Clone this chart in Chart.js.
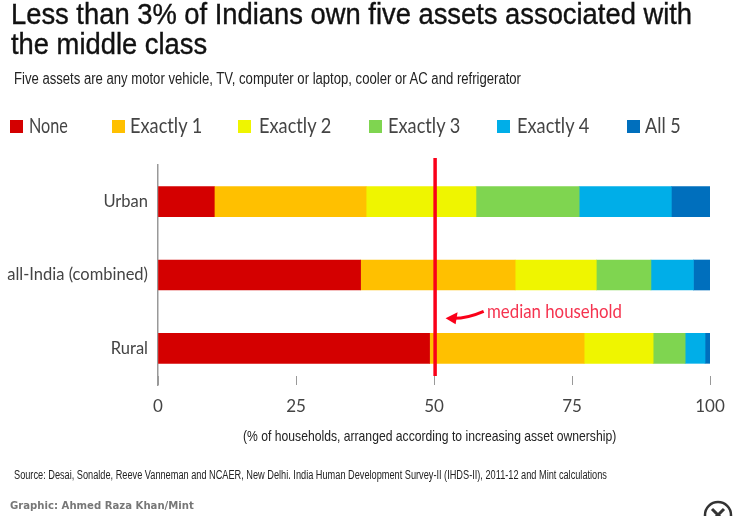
<!DOCTYPE html>
<html>
<head>
<meta charset="utf-8">
<script src="https://cdn.jsdelivr.net/npm/chart.js@4"></script>
<style>
  html, body { margin: 0; padding: 0; background: #fff; }
  #wrap { position: relative; width: 733px; height: 516px; overflow: hidden; font-family: "Liberation Sans", sans-serif; }
  canvas { position: absolute; left: 0; top: 0; }
  .t { position: absolute; white-space: nowrap; transform-origin: left top; }
  .box { position: absolute; width: 13px; height: 13px; top: 120px; }
  #close { position: absolute; left: 700px; top: 494px; }
</style>
</head>
<body>
<div id="wrap">
  <canvas id="chart" width="733" height="516"></canvas>
  <div class="t" data-w="681" style="left:11px;top:-3px;font-size:30px;color:#111;-webkit-text-stroke:.4px #111">Less than 3% of Indians own five assets associated with</div>
  <div class="t" data-w="196" style="left:11px;top:27px;font-size:30px;color:#111;-webkit-text-stroke:.4px #111">the middle class</div>
  <div class="t" data-w="507" style="left:14px;top:70px;font-size:16px;color:#222">Five assets are any motor vehicle, TV, computer or laptop, cooler or AC and refrigerator</div>
  <div class="t" data-w="373" style="left:243px;top:427px;font-size:15px;color:#222">(% of households, arranged according to increasing asset ownership)</div>
  <div class="t" data-w="593" style="left:14px;top:468px;font-size:12px;color:#222">Source: Desai, Sonalde, Reeve Vanneman and NCAER, New Delhi. India Human Development Survey-II (IHDS-II), 2011-12 and Mint calculations</div>
  <div class="t" data-w="184" style="left:10px;top:500px;font-family:'DejaVu Sans';font-weight:bold;font-size:10px;color:#777">Graphic: Ahmed Raza Khan/Mint</div>
  <svg id="close" width="33" height="22"><circle cx="18" cy="21" r="13" fill="none" stroke="#333" stroke-width="2.5"/><path d="M12 15 L24 27 M24 15 L12 27" stroke="#333" stroke-width="3"/></svg>
</div>
<script>
const categories = ['Urban', 'all-India (combined)', 'Rural'];
const seriesNames = ['None', 'Exactly 1', 'Exactly 2', 'Exactly 3', 'Exactly 4', 'All 5'];
const none = [10.2, 36.7, 49.2];
const exactly1 = [27.5, 28.0, 28.0];
const exactly2 = [19.9, 14.7, 12.5];
const exactly3 = [18.7, 9.9, 5.8];
const exactly4 = [16.7, 7.7, 3.6];
const all5 = [7.0, 3.0, 0.9];
const xTicks = [0, 25, 50, 75, 100];
const medianValue = 50.2;

const colors = ['#d40000', '#ffc000', '#eff500', '#7fd550', '#00aee8', '#006fbd'];
const legendLeft = [10, 112, 238, 369, 497, 627];
const legendTextLeft = [29, 130, 259, 388, 517, 645];
const legendWidth = [39, 72, 72, 72, 72, 36];

const wrap = document.getElementById('wrap');
seriesNames.forEach((name, i) => {
  const box = document.createElement('div');
  box.className = 'box';
  box.style.left = legendLeft[i] + 'px';
  box.style.background = colors[i];
  wrap.appendChild(box);
  const label = document.createElement('div');
  label.className = 't';
  label.textContent = name;
  label.dataset.w = legendWidth[i];
  label.style.cssText = 'left:' + legendTextLeft[i] + 'px;top:111px;font-family:Lato;font-size:22px;color:#444';
  wrap.appendChild(label);
});

// squeeze the html texts to the narrow widths of the original face
document.querySelectorAll('.t').forEach(el => {
  el.style.transform = 'scaleX(' + (el.dataset.w / el.offsetWidth) + ')';
});

// median line and its note, placed from the x scale
const medianPlugin = {
  id: 'median',
  afterDatasetsDraw(chart) {
    const { ctx, chartArea, scales } = chart;
    const x = scales.x.getPixelForValue(medianValue);
    ctx.save();
    ctx.strokeStyle = '#fa0019';
    ctx.lineWidth = 3.5;
    ctx.beginPath();
    ctx.moveTo(x, chartArea.top - 7);
    ctx.lineTo(x, chartArea.bottom - 9);
    ctx.stroke();

    const tip = scales.x.getPixelForValue(52.1);
    const tail = scales.x.getPixelForValue(59);
    const ay = scales.y.getPixelForValue(2) - 36;
    ctx.lineWidth = 3;
    ctx.beginPath();
    ctx.moveTo(tail, ay - 1);
    ctx.quadraticCurveTo(tail - 16, ay + 6, tip + 8, ay + 6);
    ctx.stroke();
    ctx.fillStyle = '#fa0019';
    ctx.beginPath();
    ctx.moveTo(tip, ay + 6);
    ctx.lineTo(tip + 12, ay);
    ctx.lineTo(tip + 10, ay + 12);
    ctx.closePath();
    ctx.fill();

    ctx.fillStyle = '#f5334f';
    ctx.font = '20px Lato';
    ctx.textBaseline = 'middle';
    ctx.fillText('median household', scales.x.getPixelForValue(59.6), ay - 1, 135);
    ctx.restore();
  }
};

new Chart(document.getElementById('chart'), {
  type: 'bar',
  data: {
    labels: categories,
    datasets: [none, exactly1, exactly2, exactly3, exactly4, all5].map((data, i) => ({
      label: seriesNames[i],
      data: data,
      backgroundColor: colors[i],
      barThickness: 30
    }))
  },
  options: {
    responsive: false,
    animation: false,
    indexAxis: 'y',
    layout: { padding: { top: 165, right: 23 } },
    plugins: { legend: { display: false }, tooltip: { enabled: false } },
    scales: {
      x: {
        stacked: true,
        min: 0,
        max: 100,
        afterBuildTicks(axis) { axis.ticks = xTicks.map(v => ({ value: v })); },
        afterFit(axis) { axis.height = 131; axis.paddingLeft = 0; axis.paddingRight = 0; },
        border: { display: false },
        grid: { drawOnChartArea: false, tickLength: -9, color: '#999', lineWidth: 1 },
        ticks: { padding: 20, maxRotation: 0, color: '#444', font: { family: 'Lato', size: 17 } }
      },
      y: {
        stacked: true,
        afterFit(axis) { axis.width = 158; },
        border: { color: '#999', width: 1.5 },
        grid: { display: false },
        ticks: { padding: 2, color: '#444', font: { family: 'Lato', size: 16.5 } }
      }
    }
  },
  plugins: [medianPlugin]
});
</script>
</body>
</html>
